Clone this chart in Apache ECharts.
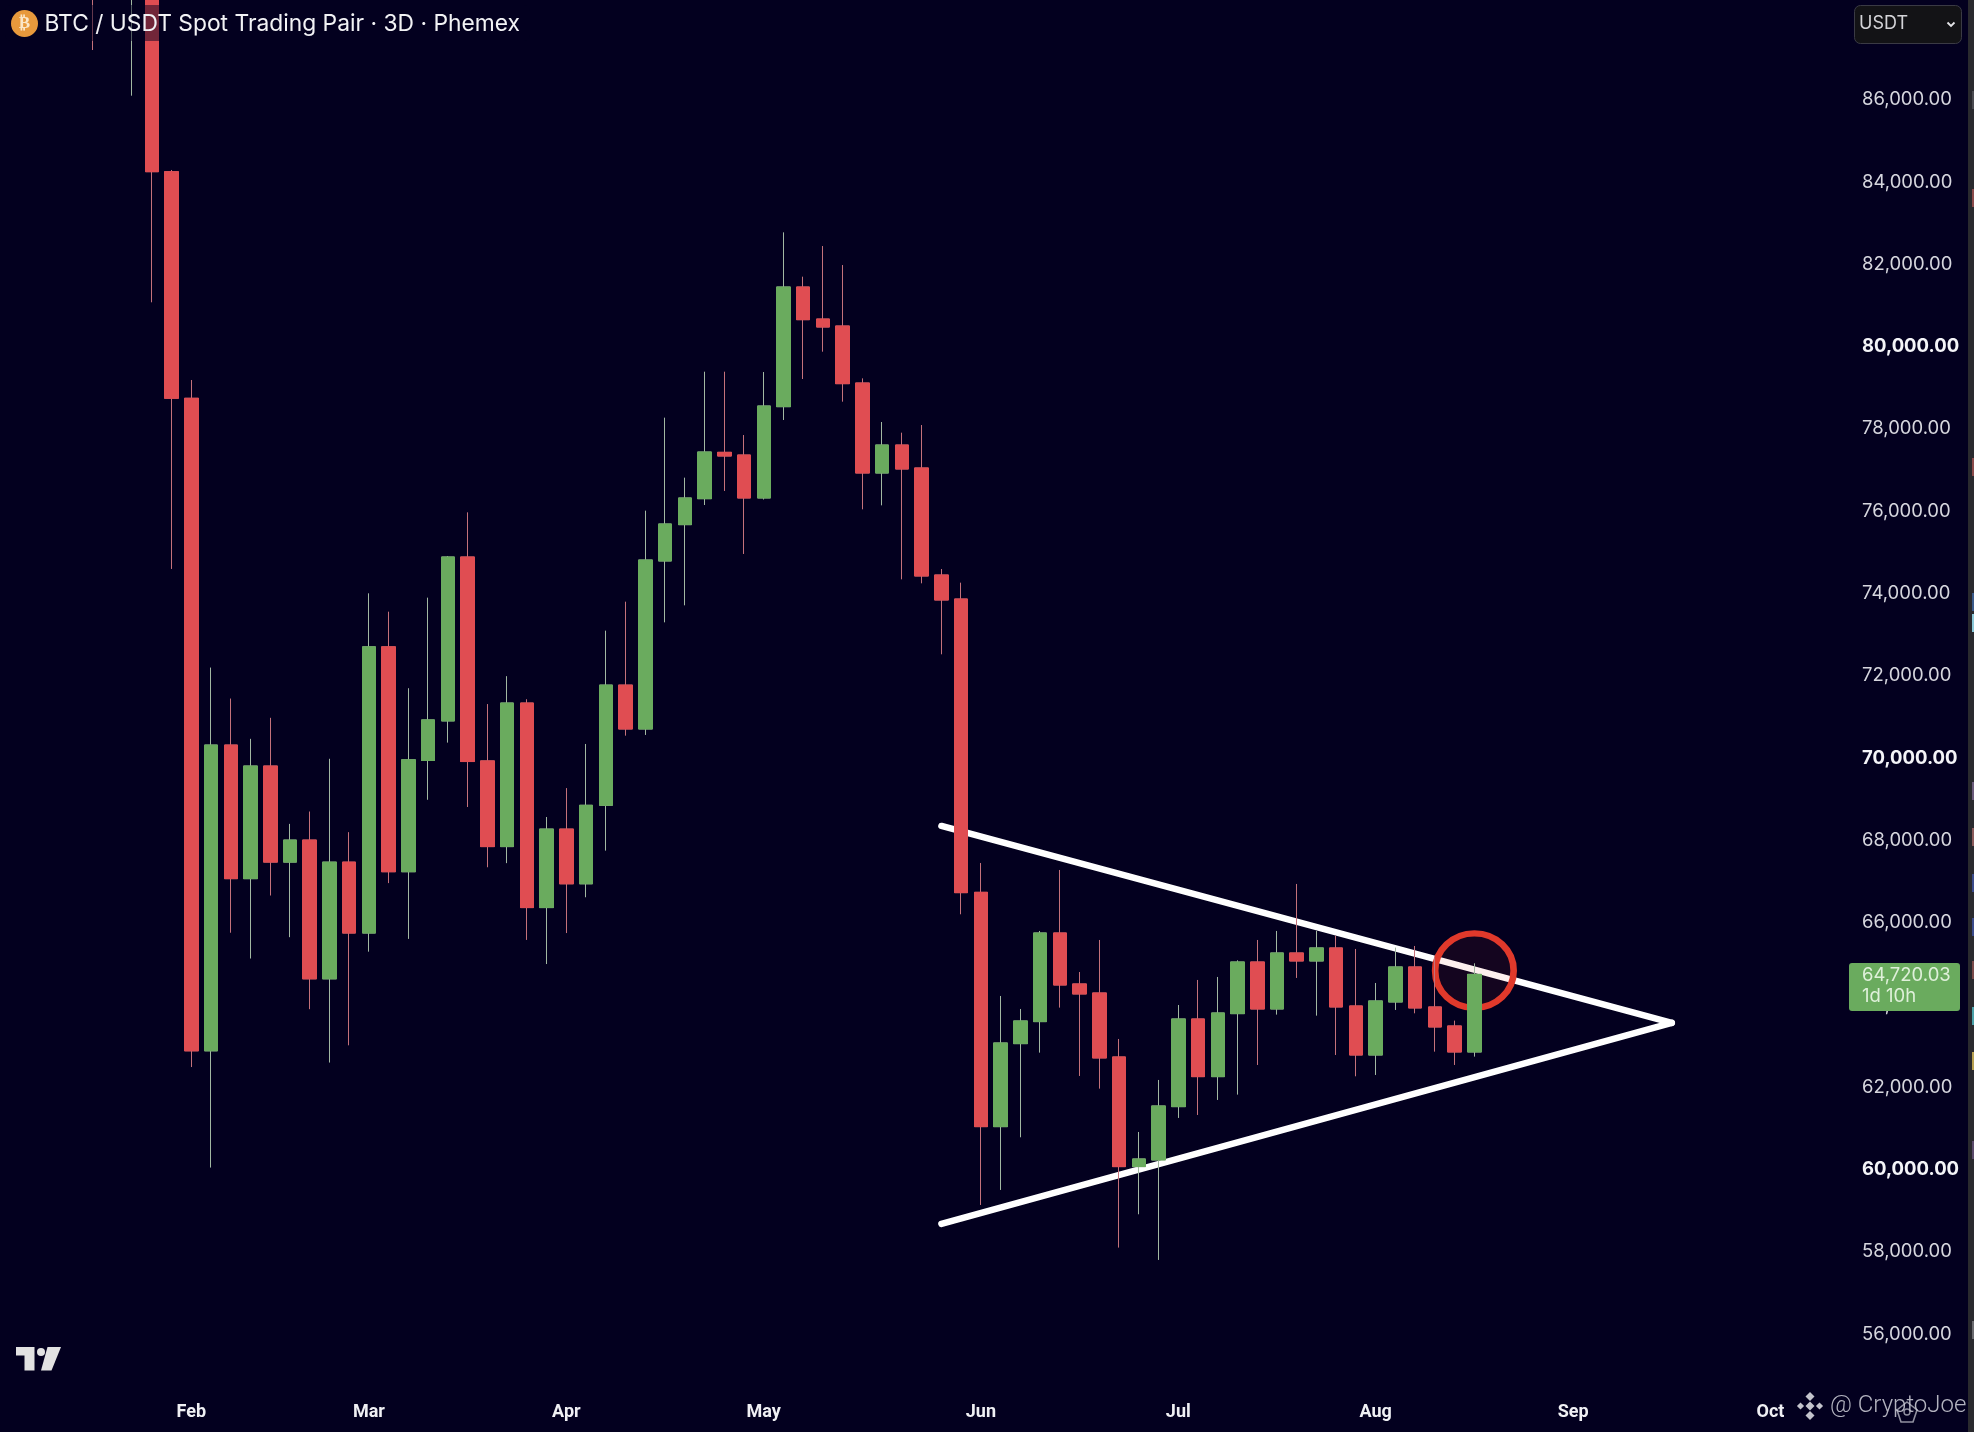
<!DOCTYPE html>
<html><head><meta charset="utf-8">
<style>html,body{margin:0;padding:0;background:#03001f}#c{width:1974px;height:1432px}</style>
<script src="https://cdn.jsdelivr.net/npm/echarts@6/dist/echarts.min.js"></script>
</head><body><div id="c"></div>
<script>
const opens = [89500,89800,88700,89500,84226,78720,62862,70293,67046,69783,67448,67984,64611,67448,65724,72679,67214,69917,70879,74863,69908,67825,71314,66343,68251,66921,68829,71750,70683,74766,75649,76280,77406,77341,76297,78516,81424,80646,80476,79091,76904,77584,77026,74425,73842,66714,61020,63037,63572,65726,64487,64268,62713,60048,60210,61506,63636,62235,63766,65021,63879,65240,65046,65362,63952,62761,64049,64900,63928,63466,62834];
const closes = [88700,89200,89500,84226,78720,62862,70293,67046,69783,67448,67984,64611,67448,65724,72679,67214,69934,70904,74863,69892,67825,71314,66343,68251,66921,68829,71750,70683,74790,75665,76297,77414,77317,76297,78532,81424,80630,80452,79075,76904,77584,77001,74401,73818,66706,61020,63053,63588,65726,64462,64244,62689,60048,60234,61522,63636,62235,63782,65021,63879,65240,65046,65362,63928,62761,64074,64900,63904,63442,62834,64720];
const lows = [87183,89000,86073,81052,74572,62468,60025,65732,65105,66636,65624,63874,62577,62996,65272,66938,65582,68963,70352,68787,67323,67423,65557,64971,65724,66594,67727,70521,70538,73275,73688,76126,76467,74936,76260,78192,79188,79852,78637,76021,76118,74320,74223,72498,66180,59116,59481,60761,62818,63912,62251,61943,58080,58890,57780,61231,61303,61668,61798,62518,63742,64633,63717,62761,62243,62275,63855,63774,62842,62518,62721];
const highs = [90000,90000,90000,90000,84268,79164,72176,71423,70444,70955,68377,68678,69959,68176,73980,73534,71674,73875,74887,75948,71289,71967,71406,68544,69247,70319,73073,73777,75989,78249,76791,79366,79366,77827,79358,82752,81675,82420,81958,79204,78143,77884,78070,74571,74239,67427,64195,63879,65775,67257,64778,65556,63150,60890,62154,63976,64584,64657,65062,65556,65775,66917,65775,65661,65337,64511,65370,65410,65151,63596,64989];

const barCount = 90;
const monthBars = [5,14,24,34,45,55,65,75,85];
const monthLabels = ['Feb','Mar','Apr','May','Jun','Jul','Aug','Sep','Oct'];
const boldPrices = [60000,70000,80000];
const hiddenPrices = [88000,90000];

const upperTrend = [[43,68327],[80,63540]];
const lowerTrend = [[43,58655],[80,63540]];
const circleMark = [[70,64810]];

const categories = Array.from({length:barCount},(_,i)=>'bar'+i);
const candles = opens.map((o,i)=>[o,closes[i],lows[i],highs[i]]);
const bodies = opens.map((o,i)=>[o,closes[i],Math.min(o,closes[i]),Math.max(o,closes[i])]);

const UP='#6aab5e', DOWN='#e04d52', BG='#03001f';
const FONT='Inter, "Noto Sans", sans-serif';
const fmt=v=>v.toLocaleString('en-US',{minimumFractionDigits:2,maximumFractionDigits:2});

const chart=echarts.init(document.getElementById('c'),null,{renderer:'canvas',width:1974,height:1432});
const scale=0.04115;
const txt=(text,x,y,font,fill,align)=>({type:'text',z:110,style:{text,x,y,font,fill,textAlign:align||'left',textVerticalAlign:'middle'}});
const rect=(x,y,w,h,fill,r,stroke)=>({type:'rect',z:100,shape:{x,y,width:w,height:h,r:r||0},style:{fill,stroke:stroke||null,lineWidth:stroke?1:0}});
const poly=(points,fill)=>({type:'polygon',z:110,shape:{points},style:{fill}});
const dia=(cx,cy,r,fill)=>poly([[cx,cy-r],[cx+r,cy],[cx,cy+r],[cx-r,cy]],fill);
const edgeBits=[[91,'#4a4a50'],[189,'#8a4a4a'],[458,'#8a4a4a'],[593,'#3a5a8a'],[614,'#8ac8d8'],[782,'#6a5a7a'],[828,'#8a5a5a'],[874,'#3a4a8a'],[918,'#3a4a8a'],[961,'#7a4a4a'],[1007,'#4aa0a8'],[1052,'#b8a050'],[1141,'#5a4a6a'],[1321,'#6a6a6e']];

chart.setOption({
  animation:false,
  backgroundColor:BG,
  grid:{left:82.73,width:1776.6,top:98.7-4000*scale,height:34000*scale,containLabel:false,outerBoundsMode:'none'},
  tooltip:{show:false},
  xAxis:{type:'category',data:categories,boundaryGap:true,
    axisLine:{show:false},axisTick:{show:false},splitLine:{show:false},
    axisLabel:{show:true,margin:70,color:'#f0f0f4',fontFamily:'Roboto',fontSize:18,fontWeight:700,hideOverlap:false,
      interval:(i)=>monthBars.includes(i),
      formatter:(v,i)=>monthLabels[monthBars.indexOf(i)]||''}},
  yAxis:{type:'value',position:'right',min:56000,max:90000,interval:2000,scale:true,
    axisLine:{show:false},axisTick:{show:false},splitLine:{show:false},
    axisLabel:{show:true,margin:2.7,align:'left',
      formatter:v=>hiddenPrices.includes(v)?'':(boldPrices.includes(v)?'{b|'+fmt(v)+'}':'{r|'+fmt(v)+'}'),
      rich:{r:{fontFamily:FONT,fontSize:18.5,color:'#d6d6de',padding:[2,0,0,0]},b:{fontFamily:FONT,fontSize:18.5,fontWeight:700,color:'#f4f4f8',padding:[2,0,0,0]}}}},
  series:[
    {type:'line',z:1,data:upperTrend,showSymbol:false,silent:true,lineStyle:{color:'#ffffff',width:6.5,cap:'round'}},
    {type:'line',z:1,data:lowerTrend,showSymbol:false,silent:true,lineStyle:{color:'#ffffff',width:6.5,cap:'round'}},
    {type:'scatter',z:2,data:circleMark,symbol:'circle',symbolSize:[78.5,74.5],silent:true,
      itemStyle:{color:'rgba(226,60,40,0.08)',borderColor:'#e0392b',borderWidth:6.5,opacity:1}},
    {type:'candlestick',z:3,data:candles,barWidth:14,silent:true,
      itemStyle:{color:'#a2b8a2',color0:'#c4717a',borderColor:'#a2b8a2',borderColor0:'#c4717a',borderWidth:1}},
    {type:'candlestick',z:4,data:bodies,barWidth:14,silent:true,
      itemStyle:{color:UP,color0:DOWN,borderColor:UP,borderColor0:DOWN,borderWidth:1}}
  ],
  graphic:{elements:[
    rect(5,5,525,36,'rgba(3,0,31,0.5)',6),
    {type:'circle',z:110,shape:{cx:24.5,cy:23.5,r:13.5},style:{fill:'#e8993c'}},
    txt('₿',24.5,24,'bold 17px "DejaVu Sans"','#fbe6c8','center'),
    txt('BTC / USDT Spot Trading Pair · 3D · Phemex',44.5,24,'22.8px '+FONT,'#f2f2f5'),
    rect(1854.5,5.5,107,38,'#131316',6,'#3a3a44'),
    txt('USDT',1859,24,'18px '+FONT,'#d4d4d8'),
    {type:'polyline',z:110,shape:{points:[[1947.5,22.5],[1951,26],[1954.5,22.5]]},style:{stroke:'#e4e4e8',lineWidth:1.8,fill:null}},
    rect(1849,963,111,48,'#6aab5e',3),
    txt('64,720.03',1862,975.5,'18.5px '+FONT,'#dff0da'),
    txt('1d 10h',1862,996.5,'18.5px '+FONT,'#dff0da'),
    poly([[16,1347],[34.5,1347],[34.5,1370.5],[24.5,1370.5],[24.5,1355.5],[16,1355.5]],'#e2e2e2'),
    {type:'circle',z:110,shape:{cx:41,cy:1352,r:4},style:{fill:'#e2e2e2'}},
    poly([[47.5,1347],[61,1347],[51.5,1370.5],[41,1370.5]],'#e2e2e2'),
    dia(1810,1406,4.5,'#c4c4cc'),dia(1810,1396.5,4.5,'#c4c4cc'),dia(1810,1415.5,4.5,'#c4c4cc'),dia(1800.5,1406,3.6,'#c4c4cc'),dia(1819.5,1406,3.6,'#c4c4cc'),
    txt('@ CryptoJoe',1830,1406,'300 24px Roboto','rgba(210,210,220,0.85)'),
    {type:'polygon',z:110,shape:{points:[[1907,1402],[1917,1410],[1913,1422],[1901,1422],[1897,1410]]},style:{fill:null,stroke:'rgba(205,205,215,0.7)',lineWidth:1.6}},
    {type:'circle',z:110,shape:{cx:1907,cy:1412,r:3},style:{fill:null,stroke:'rgba(205,205,215,0.7)',lineWidth:1.4}},
    rect(1968,0,6,1432,'#2a2a2e',0)
  ].concat(edgeBits.map(b=>rect(1972,b[0],2,18,b[1],0)))}
});
</script></body></html>
